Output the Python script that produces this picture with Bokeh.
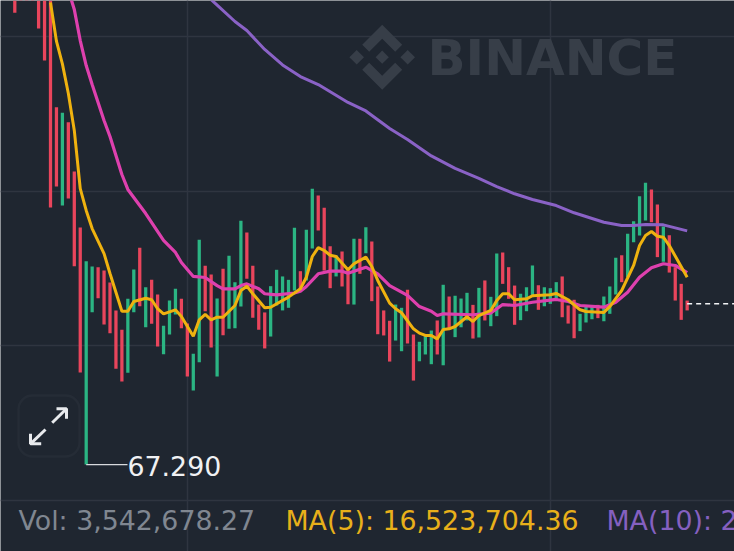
from bokeh.plotting import figure
from bokeh.models import ColumnDataSource, Label, BoxAnnotation, FixedTicker
from bokeh.embed import file_html
from bokeh.resources import INLINE

# candles, index 0..113
highs = [98.50, 99.00, 99.00, 99.00, 99.00, 98.50, 98.00, 90.42, 90.06, 89.45,
         86.26, 82.64, 80.46, 80.11, 80.07, 79.85, 79.08, 77.27, 76.02, 78.02,
         79.92, 81.32, 78.77, 79.25, 78.30, 76.28, 77.91, 78.67, 78.02, 76.42,
         74.46, 81.84, 80.16, 79.60, 78.04, 79.96, 80.81, 79.10, 83.07, 82.31,
         80.16, 77.65, 77.14, 78.84, 79.90, 79.47, 79.25, 82.62, 79.81, 82.49,
         85.14, 84.71, 83.91, 81.43, 80.83, 81.08, 79.96, 81.91, 81.91, 82.66,
         81.73, 78.82, 77.27, 76.60, 77.65, 77.44, 78.61, 75.71, 75.24, 75.71,
         75.97, 76.62, 78.93, 78.17, 78.22, 78.04, 78.41, 77.63, 78.73, 79.21,
         78.15, 80.95, 81.02, 80.07, 78.88, 78.35, 78.77, 80.18, 78.90, 78.77,
         78.71, 79.10, 79.47, 77.59, 77.96, 77.05, 77.59, 77.59, 77.63, 78.17,
         78.82, 80.68, 80.84, 82.23, 83.05, 84.66, 85.53, 85.10, 84.13, 82.70,
         82.14, 80.07, 78.99, 77.91]
lows = [96.53, 98.00, 98.00, 98.00, 95.52, 93.45, 83.93, 85.29, 84.06, 84.51,
        80.13, 73.25, 67.29, 77.16, 78.06, 76.36, 75.80, 73.49, 72.67, 73.23,
        77.16, 77.54, 76.18, 76.40, 74.94, 74.44, 75.71, 77.01, 76.12, 72.99,
        72.09, 73.92, 77.22, 74.87, 72.99, 75.67, 76.08, 76.12, 77.52, 79.32,
        76.79, 76.02, 74.81, 75.58, 77.59, 77.27, 77.44, 78.56, 78.67, 79.21,
        81.28, 82.44, 79.85, 78.71, 79.47, 78.82, 77.67, 77.65, 79.64, 80.97,
        77.87, 75.73, 75.65, 73.96, 75.32, 74.63, 75.13, 72.73, 73.98, 74.42,
        73.79, 74.42, 73.72, 76.08, 75.54, 76.18, 76.62, 75.45, 75.52, 76.62,
        76.25, 76.90, 78.99, 78.02, 76.34, 76.64, 77.22, 78.13, 77.31, 77.54,
        77.70, 78.02, 76.83, 76.42, 75.47, 75.93, 76.49, 76.70, 76.77, 76.57,
        77.05, 78.30, 79.10, 79.42, 81.69, 82.12, 83.09, 82.98, 80.72, 80.42,
        79.72, 77.91, 76.66, 77.27]
rising = [0, 0, 0, 0, 0, 0, 0, 0, 1, 0,
          0, 0, 1, 1, 0, 0, 0, 0, 0, 1,
          1, 0, 1, 0, 0, 1, 1, 1, 0, 0,
          1, 1, 0, 0, 1, 0, 1, 1, 1, 0,
          0, 0, 0, 1, 1, 1, 1, 1, 0, 1,
          1, 0, 0, 0, 1, 0, 0, 1, 0, 1,
          0, 0, 0, 0, 1, 1, 0, 0, 1, 1,
          1, 0, 1, 0, 1, 1, 1, 0, 1, 0,
          1, 1, 0, 0, 0, 1, 1, 1, 0, 1,
          1, 1, 0, 0, 0, 1, 1, 1, 0, 1,
          1, 1, 0, 1, 1, 1, 1, 0, 0, 1,
          0, 0, 0, 0]
assert len(highs) == len(lows) == len(rising) == 114

ma5_i = [6, 7, 8, 9, 10, 11, 12, 13, 15, 16, 18, 19, 20, 22, 23, 24, 25, 27, 28, 30,
         31, 32, 33, 34, 35, 37, 38, 39, 40, 42, 43, 46, 48, 49, 50, 51, 52, 53, 54, 56,
         57, 59, 60, 61, 63, 64, 65, 67, 68, 69, 70, 71, 72, 73, 74, 76, 77, 78, 80, 81,
         82, 83, 84, 86, 87, 90, 91, 93, 95, 96, 99, 100, 102, 104, 105, 106, 107, 108, 109, 110, 113]
ma5_v = [97.20, 94.70, 93.23, 91.31, 88.92, 85.16, 83.74, 82.57, 80.95, 79.66, 77.22, 77.22, 77.85, 78.06, 77.96, 77.38, 77.05, 77.31, 76.88, 75.60,
         76.66, 77.01, 76.66, 76.83, 76.83, 77.59, 78.56, 78.84, 78.35, 77.44, 77.48, 78.13, 78.67, 79.42, 80.76, 81.34, 81.15, 80.84, 80.76, 79.90,
         80.29, 80.72, 80.11, 79.21, 77.74, 77.38, 77.12, 76.08, 75.80, 75.65, 75.65, 75.43, 76.04, 76.08, 76.23, 76.86, 76.55, 76.94, 77.27, 77.91,
         78.35, 78.35, 77.96, 78.02, 78.22, 78.28, 78.37, 77.96, 77.31, 77.20, 77.14, 77.52, 78.56, 80.18, 81.47, 82.12, 82.38, 82.07, 82.01, 81.47, 79.42]

ma10_i = [9, 10, 11, 12, 13, 14, 15, 16, 17, 18, 19, 20, 22, 25, 27, 28, 30, 32, 34, 35,
          37, 38, 39, 41, 42, 44, 47, 48, 49, 51, 53, 55, 56, 59, 61, 63, 66, 68, 70, 71,
          72, 77, 80, 82, 84, 87, 91, 93, 95, 99, 101, 103, 105, 107, 109, 111, 113]
ma10_v = [98.00, 96.75, 94.74, 93.12, 91.89, 90.73, 89.56, 88.53, 87.30, 86.07, 85.10, 84.58, 83.54, 81.80, 81.02, 80.37, 79.47, 79.40, 78.88, 78.67,
          78.67, 78.88, 78.99, 78.67, 78.35, 78.28, 78.40, 78.51, 78.82, 79.64, 79.81, 79.81, 79.68, 80.07, 79.64, 78.88, 78.24, 77.52, 77.22, 76.94,
          77.05, 76.99, 77.10, 77.65, 77.59, 77.80, 77.98, 77.85, 77.59, 77.48, 77.80, 78.45, 79.42, 80.03, 80.29, 80.18, 79.71]

ma30_i = [33, 37, 39, 42, 45, 48, 51, 56, 59, 63, 66, 70, 74, 78, 81, 84, 87, 91, 94, 99, 102, 104, 106, 109, 113]
ma30_v = [97.39, 95.97, 95.39, 94.16, 93.16, 92.41, 91.89, 90.73, 90.18, 89.05, 88.33, 87.27, 86.46, 85.81, 85.29, 84.82, 84.45, 84.06, 83.59, 82.98, 82.77, 82.77, 82.83, 82.81, 82.42]

low_price = 67.29
last_price = 77.70
grid_prices = [65, 75, 85, 95]
grid_candles = [29, 90]

low_text = "67.290"
vol_text = "Vol: 3,542,678.27"
ma5_text = "MA(5): 16,523,704.36"
ma10_text = "MA(10): 2"
mark_text = "BINANCE"

BG, GRID = "#1f2630", "#2f3540"
RED, GREEN = "#e9455c", "#2bb583"
WM = "#373e48"
W, H = 734, 551
X0, PXK = 14.3, 5.95
Y75, PXP = 345.0, 15.45


def xd(px):
    return (px - X0) / PXK


def yd(py):
    return 75 + (Y75 - py) / PXP


p = figure(width=W, height=H, x_range=(xd(0), xd(W)), y_range=(yd(H), yd(0)),
           output_backend="svg", toolbar_location=None, min_border=0,
           background_fill_color=BG, border_fill_color=BG, outline_line_color=None,
           styles={"position": "absolute", "left": "0px", "top": "0px"})
p.xaxis.visible = False
p.yaxis.visible = False
p.xgrid.ticker = FixedTicker(ticks=grid_candles)
p.ygrid.ticker = FixedTicker(ticks=grid_prices)
p.xgrid.grid_line_color = GRID
p.ygrid.grid_line_color = GRID
p.xgrid.grid_line_width = 1.5
p.ygrid.grid_line_width = 1.5

# watermark
cx, cy = 381.7, 56.7
logo_xs, logo_ys = [], []
for dx, dy, r in [(0, 0, 6.6), (-25.5, 0, 7.3), (25.5, 0, 7.3)]:
    logo_xs.append([xd(cx + dx), xd(cx + dx + r), xd(cx + dx), xd(cx + dx - r)])
    logo_ys.append([yd(cy + dy - r), yd(cy + dy), yd(cy + dy + r), yd(cy + dy)])
for sgn in (-1, 1):
    pts = [(0, 32.5), (20, 12.5), (13, 5.5), (0, 18.5), (-13, 5.5), (-20, 12.5)]
    logo_xs.append([xd(cx + a) for a, b in pts])
    logo_ys.append([yd(cy + sgn * b) for a, b in pts])
p.patches(logo_xs, logo_ys, fill_color=WM, line_color=None)
p.add_layout(Label(x=xd(427), y=yd(57), text=mark_text, text_font="DejaVu Sans", text_font_style="bold",
                   text_font_size="50px", text_color=WM, text_baseline="middle"))

# candles
src = ColumnDataSource(dict(x=list(range(len(highs))), top=highs, bottom=lows,
                            color=[GREEN if r else RED for r in rising]))
p.vbar("x", top="top", bottom="bottom", width=0.55, source=src, fill_color="color", line_color=None)

# moving averages
p.line(ma30_i, ma30_v, line_color="#8a62c6", line_width=3)
p.line(ma10_i, ma10_v, line_color="#de40ae", line_width=3.2)
p.line(ma5_i, ma5_v, line_color="#efb20f", line_width=3)

# last price and low marker
p.line([113, xd(W)], [last_price, last_price], line_color="#f2f3f5", line_width=1.4, line_dash="5 4")
p.line([12, xd(127)], [low_price, low_price], line_color="#d8dadd", line_width=1.4)
p.add_layout(Label(x=xd(127), y=yd(465.5), text=low_text, text_font="DejaVu Sans", text_font_size="26.8px",
                   text_color="#f0f1f3", text_baseline="middle"))

# expand button
p.add_layout(BoxAnnotation(left=xd(18), right=xd(79), top=yd(395), bottom=yd(456), fill_alpha=0,
                           line_color="#363c47", line_width=2.4, border_radius=14))
p.multi_line([[xd(51.7), xd(66)], [xd(56), xd(66), xd(66)], [xd(45), xd(30)], [xd(30), xd(30), xd(40.7)]],
             [[yd(422.3), yd(408.3)], [yd(408.3), yd(408.3), yd(418.3)],
              [yd(429), yd(443.3)], [yd(433.3), yd(443.3), yd(443.3)]],
             line_color="#e8eaed", line_width=3)

# footer
for x_px, text, color in [(18, vol_text, "#808791"), (285, ma5_text, "#e8b01a"), (606, ma10_text, "#8560c0")]:
    p.add_layout(Label(x=xd(x_px), y=yd(519.7), text=text, text_font="DejaVu Sans", text_font_size="26.8px",
                       text_color=color, text_baseline="middle"))

open("out.html", "w").write(file_html(p, INLINE))
